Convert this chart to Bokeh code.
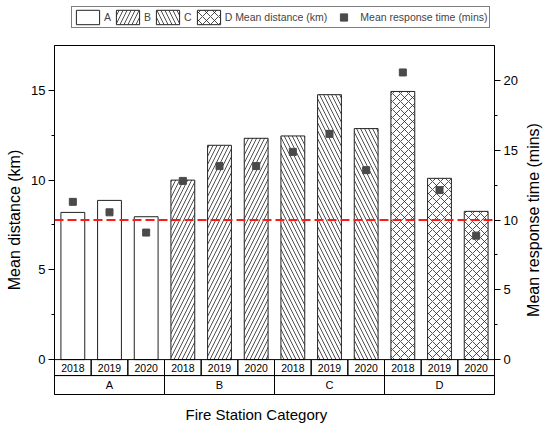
import math
from bokeh.plotting import figure
from bokeh.layouts import column, row
from bokeh.models import (FactorRange, Range1d, LinearAxis, FixedTicker, Span,
                          Legend, LegendItem, Title, ColumnDataSource)
from bokeh.core.properties import value
from bokeh.embed import file_html
from bokeh.resources import INLINE

# ---- data ----
categories = ["A", "B", "C", "D"]
years = ["2018", "2019", "2020"]
mean_distance_km = [8.2, 8.87, 7.96, 10.0, 11.94, 12.33, 12.46, 14.76, 12.87, 14.94, 10.1, 8.26]
mean_response_min = [11.3, 10.55, 9.1, 12.8, 13.86, 13.86, 14.88, 16.17, 13.57, 20.57, 12.14, 8.88]
hatches = {"A": " ", "B": "/", "C": "\\", "D": "x"}
legend_labels = ["A", "B", "C", "D Mean distance (km)"]
marker_label = "Mean response time (mins)"
right_axis_title = "Mean response time (mins)"
threshold_min = 10
left_ticks = [0, 5, 10, 15]
right_ticks = [0, 5, 10, 15, 20]

FONT = "Liberation Sans"
BAR_LINE = "#222222"
MARKER = "#4a4a4a"
HATCH_SCALE = 8
factors = [(c, y) for c in categories for y in years]

# table rows below the axis (in km units of the left range)
ROW1 = 16 / 18.0
ROW2 = 35 / 18.0

p = figure(width=523, height=394, output_backend="svg", toolbar_location=None,
           x_range=FactorRange(*factors, group_padding=0, factor_padding=0, range_padding=0),
           y_range=Range1d(-ROW2, 17.5), x_axis_location=None,
           min_border_left=54, min_border_right=29, min_border_top=8, min_border_bottom=36)
p.extra_y_ranges = {"right": Range1d(-35 / 14.0, 22.5)}
p.grid.visible = False
p.outline_line_color = "black"
p.outline_line_width = 1

src = ColumnDataSource(dict(x=factors, d=mean_distance_km, t=mean_response_min,
                            h=[hatches[c] for c, _ in factors]))

bars = p.vbar(x="x", top="d", width=0.65, source=src, fill_color="white",
              line_color=BAR_LINE, line_width=1, hatch_pattern="h",
              hatch_color=BAR_LINE, hatch_weight=0.8, hatch_scale=HATCH_SCALE)

pts = p.scatter(x="x", y="t", source=src, y_range_name="right", marker="square",
                size=7, fill_color=MARKER, line_color=MARKER)

p.add_layout(Span(location=threshold_min, dimension="width", y_range_name="right",
                  line_color="#ff1a1a", line_width=2, line_dash="9 4"))

# table cells
p.rect(x=factors, y=-ROW1 / 2, width=1, height=ROW1, fill_color=None,
       line_color="black", line_width=1)
p.text(x=factors, y=-ROW1 / 2, text=[y for _, y in factors], text_align="center",
       text_baseline="middle", text_font_size="10.5px", text_font=value(FONT),
       text_color="black")
p.rect(x=categories, y=-(ROW1 + ROW2) / 2, width=3, height=ROW2 - ROW1,
       fill_color=None, line_color="black", line_width=1)
p.text(x=categories, y=-(ROW1 + ROW2) / 2, text=categories, text_align="center",
       text_baseline="middle", text_font_size="11px", text_font=value(FONT),
       text_color="black")

# axes
ya = p.yaxis[0]
ya.ticker = FixedTicker(ticks=left_ticks, minor_ticks=[2.5, 7.5, 12.5])
ya.axis_label = "Mean distance (km)"
ra = LinearAxis(y_range_name="right",
                ticker=FixedTicker(ticks=right_ticks, minor_ticks=[2.5, 7.5, 12.5, 17.5]))
p.add_layout(ra, "right")
for ax in (ya, ra):
    ax.axis_label_text_font = FONT
    ax.axis_label_text_font_size = "16px"
    ax.axis_label_text_font_style = "normal"
    ax.axis_label_text_color = "black"
    ax.axis_label_standoff = 5
    ax.major_label_text_font = FONT
    ax.major_label_text_font_size = "13px"
    ax.major_label_text_color = "black"
    ax.major_label_standoff = 3
    ax.major_tick_out = 6
    ax.major_tick_in = 0
    ax.minor_tick_out = 3
    ax.minor_tick_in = 0
    ax.axis_line_color = "black"
    ax.major_tick_line_color = "black"
    ax.minor_tick_line_color = "black"

p.add_layout(Title(text="Fire Station Category", align="left", offset=131,
                   text_font=FONT, text_font_size="15px", text_font_style="normal",
                   text_color="black", standoff=18), "below")

# ---- right axis title strip (reads bottom-to-top) ----
rf = figure(width=27, height=394, output_backend="svg", toolbar_location=None,
            x_range=Range1d(0, 1), y_range=Range1d(0, 1), x_axis_location=None,
            y_axis_location=None, min_border_left=0, min_border_right=0,
            min_border_top=8, min_border_bottom=36, outline_line_color=None)
rf.grid.visible = False
rf.text(x=[0.37], y=[0.5], text=[right_axis_title], angle=math.pi / 2,
        text_align="center", text_baseline="middle", text_font_size="16px",
        text_font=value(FONT), text_color="black")

# ---- legend strip above the chart ----
lg = figure(width=550, height=37, output_backend="svg", toolbar_location=None,
            x_range=Range1d(0, 1), y_range=Range1d(0, 1), x_axis_location=None,
            y_axis_location=None, min_border_left=54, min_border_right=8,
            min_border_top=0, min_border_bottom=0, outline_line_color=None)
lg.grid.visible = False
# legend proxies sit outside the strip's visible range; only their legend swatches show
proxy = ColumnDataSource(dict(x=[-5], y=[-5]))
items = []
for cat, lab in zip(categories, legend_labels):
    r = lg.vbar(x="x", top="y", width=0.5, source=proxy,
                fill_color="white", line_color=BAR_LINE, line_width=1,
                hatch_pattern=hatches[cat], hatch_color=BAR_LINE,
                hatch_weight=0.8, hatch_scale=HATCH_SCALE)
    items.append(LegendItem(label=lab, renderers=[r]))
rm = lg.scatter(x="x", y="y", source=proxy, marker="square", size=7,
                fill_color=MARKER, line_color=MARKER)
items.append(LegendItem(label=marker_label, renderers=[rm]))

legend = Legend(items=items, orientation="horizontal", location=(17, 9),
                glyph_width=29, glyph_height=18, label_standoff=2, spacing=2,
                padding=1, margin=0, label_width=0, label_height=18,
                label_text_font=FONT, label_text_font_size="10.5px",
                border_line_color="black", border_line_width=1)
lg.add_layout(legend, "center")

layout = column(lg, row(p, rf, spacing=0), spacing=0)
open("out.html", "w").write(file_html(layout, INLINE))
